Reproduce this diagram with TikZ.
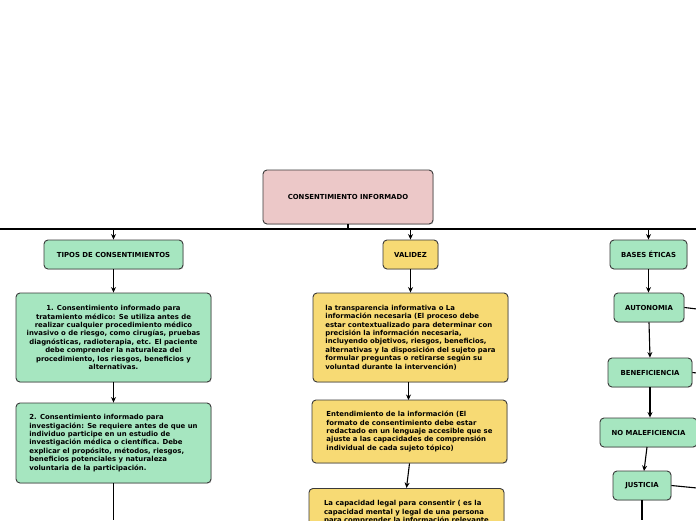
\documentclass[tikz,border=0pt]{standalone}
\usepackage{fontspec}
\setmainfont{DejaVu Sans}
\usetikzlibrary{arrows.meta,shadows}
\definecolor{pinkfill}{RGB}{236,200,200}
\definecolor{greenfill}{RGB}{166,230,192}
\definecolor{yellowfill}{RGB}{247,218,116}
\definecolor{boxline}{RGB}{58,58,58}
\tikzset{
  box/.style={draw=boxline, line width=0.9pt, rounded corners=4pt, inner sep=0pt,
    font=\fontsize{6.9}{8.4}\selectfont\bfseries,
    drop shadow={shadow xshift=0.7pt, shadow yshift=-0.7pt, opacity=0.35}},
  pinkbox/.style={box, fill=pinkfill},
  greenbox/.style={box, fill=greenfill},
  yellowbox/.style={box, fill=yellowfill},
  conn/.style={draw=black, line width=1.1pt},
  arr/.style={conn, -{Stealth[length=5.5pt,width=5pt]}},
}
\begin{document}
\begin{tikzpicture}[x=1pt,y=-1pt]
\useasboundingbox (0,0) rectangle (696,520);
\clip (0,0) rectangle (696,520);
\fill[white] (0,0) rectangle (696,520);

% main
\node[pinkbox, minimum width=170pt, minimum height=54pt] (c) at (348,197) {CONSENTIMIENTO INFORMADO};
\coordinate (hl) at (0,229);
\coordinate (hr) at (696,229);
\draw[conn, line width=1.6pt] (hl) -- (hr);
\draw[conn] (c.south) -- (c.south |- hl);

% headers
\node[greenbox, minimum width=139pt, minimum height=29pt] (tipos) at (113.5,254.5) {TIPOS DE CONSENTIMIENTOS};
\node[yellowbox, minimum width=55pt, minimum height=29pt] (validez) at (410.5,254.5) {VALIDEZ};
\node[greenbox, minimum width=77pt, minimum height=29pt] (bases) at (648.5,254.5) {BASES ÉTICAS};
\draw[arr] (tipos.north |- hl) -- (tipos.north);
\draw[arr] (validez.north |- hl) -- (validez.north);
\draw[arr] (bases.north |- hl) -- (bases.north);

% tipos column
\node[greenbox, minimum width=195pt, minimum height=89pt, align=center] (t1) at (113.5,337.5)
 {1. Consentimiento informado para\\tratamiento médico: Se utiliza antes de\\realizar cualquier procedimiento médico\\invasivo o de riesgo, como cirugías, pruebas\\diagnósticas, radioterapia, etc. El paciente\\debe comprender la naturaleza del\\procedimiento, los riesgos, beneficios y\\alternativas.};
\node[greenbox, minimum width=195pt, minimum height=80pt, align=left] (t2) at (113.5,443)
 {2. Consentimiento informado para\\investigación: Se requiere antes de que un\\individuo participe en un estudio de\\investigación médica o científica. Debe\\explicar el propósito, métodos, riesgos,\\beneficios potenciales y naturaleza\\voluntaria de la participación.};
\coordinate (t2end) at (113.5,520);
\draw[arr] (tipos.south) -- (t1.north);
\draw[arr] (t1.south) -- (t2.north);
\draw[conn] (t2.south) -- (t2end);

% validez column
\node[yellowbox, minimum width=195pt, minimum height=89pt, align=left] (va) at (410.5,337.5)
 {la transparencia informativa o La\\información necesaria (El proceso debe\\estar contextualizado para determinar con\\precisión la información necesaria,\\incluyendo objetivos, riesgos, beneficios,\\alternativas y la disposición del sujeto para\\formular preguntas o retirarse según su\\voluntad durante la intervención)};
\node[yellowbox, minimum width=195pt, minimum height=63pt, align=left] (vb) at (409.5,431.5)
 {Entendimiento de la información (El\\formato de consentimiento debe estar\\redactado en un lenguaje accesible que se\\ajuste a las capacidades de comprensión\\individual de cada sujeto tópico)};
\node[yellowbox, minimum width=195pt, inner ysep=12pt, anchor=north, align=left] (vc) at (406.5,488)
 {La capacidad legal para consentir ( es la\\capacidad mental y legal de una persona\\para comprender la información relevante\\};
\draw[arr] (validez.south) -- (va.north);
\draw[arr] (408.5,382) -- (408.5,400);
\draw[arr] (vb.south) -- (vc.north);

% bases column
\node[greenbox, minimum width=70pt, minimum height=29pt] (auto) at (649,307.5) {AUTONOMIA};
\node[greenbox, minimum width=84pt, minimum height=29pt] (benef) at (650,372.5) {BENEFICIENCIA};
\node[greenbox, minimum width=97pt, minimum height=29pt] (nomal) at (648.5,432.5) {NO MALEFICIENCIA};
\node[greenbox, minimum width=58pt, minimum height=29pt] (just) at (642,485.5) {JUSTICIA};
\coordinate (autoR) at (697,309);
\coordinate (benefR) at (697,373);
\coordinate (justR) at (697,488);
\coordinate (justEnd) at (642,520);
\draw[arr] (bases.south) -- (bases.south |- auto.north);
\draw[arr] (auto.south) -- (benef.north);
\draw[arr] (benef.south) -- (benef.south |- nomal.north);
\draw[arr] (647,447) -- (644,471);
\draw[conn] (auto.east) -- (autoR);
\draw[conn] (benef.east) -- (benefR);
\draw[conn] (just.east) -- (justR);
\draw[conn] (just.south) -- (justEnd);
\end{tikzpicture}
\end{document}
